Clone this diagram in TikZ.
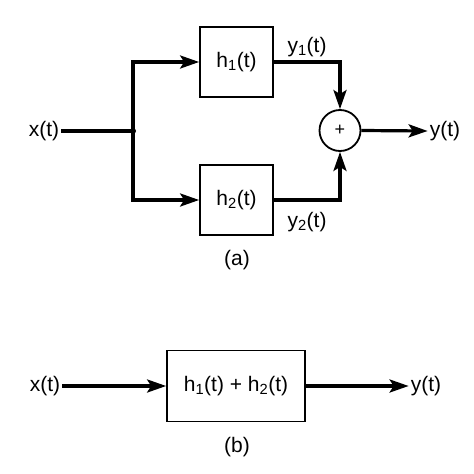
\documentclass[tikz,border=0pt]{standalone}
\usepackage{fontspec}
\setmainfont{Liberation Sans}
\usetikzlibrary{arrows.meta}
\tikzset{
  lbl/.style={inner sep=2pt, font=\fontsize{21}{24}\selectfont},
  blk/.style={draw, line width=1.7pt, minimum width=73pt, minimum height=70pt, inner sep=0pt, font=\fontsize{21}{24}\selectfont},
  sig/.style={line width=3.2pt},
  sigarrow/.style={line width=3.2pt, -{Stealth[length=19pt,width=13pt,inset=4pt]}},
  sumnode/.style={draw, circle, line width=1.8pt, minimum size=41pt, inner sep=0pt, font=\fontsize{18}{20}\selectfont}
}
\begin{document}
\begin{tikzpicture}[x=1pt,y=-1pt]
\useasboundingbox (0,0) rectangle (474,474);
% (a)
\node[lbl] (xa) at (44,131) {x(t)};
\coordinate (j) at (133,131);
\node[blk] (h1) at (236.5,62) {h\textsubscript{1}(t)};
\node[blk] (h2) at (236.5,200) {h\textsubscript{2}(t)};
\node[sumnode] (s) at (340,130.5) {+};
\node[lbl] (y1) at (307,47) {y\textsubscript{1}(t)};
\node[lbl] (y2) at (307,222) {y\textsubscript{2}(t)};
\node[lbl] (ya) at (445,131) {y(t)};
\node[lbl] (capa) at (237,260) {(a)};
\draw[sig] (xa.east) -- (j);
\fill (j) circle (3pt);
\draw[sigarrow] (j) |- (h1.west);
\draw[sigarrow] (j) |- (h2.west);
\draw[sigarrow] (h1.east) -| (s.north);
\draw[sigarrow] (h2.east) -| (s.south);
\draw[sigarrow] (s.east) -- (ya.west);
% (b)
\node[lbl] (xb) at (45,386) {x(t)};
\node[blk, minimum width=138pt, minimum height=71pt] (hb) at (236,386) {h\textsubscript{1}(t) + h\textsubscript{2}(t)};
\node[lbl] (yb) at (426,386) {y(t)};
\node[lbl] (capb) at (237,447) {(b)};
\draw[sigarrow] (xb.east) -- (hb.west);
\draw[sigarrow] (hb.east) -- (yb.west);
\end{tikzpicture}
\end{document}
